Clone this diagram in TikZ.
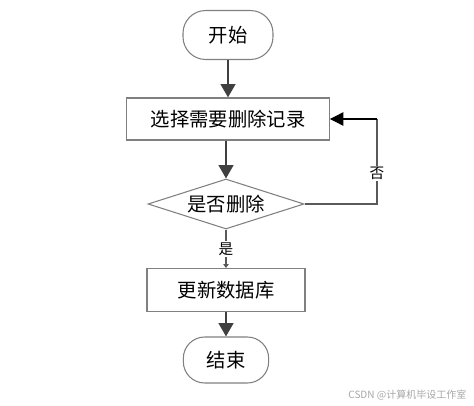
\documentclass[tikz,border=0pt]{standalone}
\usepackage{fontspec}
\setmainfont{Noto Sans CJK SC}
\usetikzlibrary{arrows.meta, shapes.geometric, positioning}

\tikzset{
    term/.style={draw=gray, line width=0.8pt, rounded corners=17pt, font=\fontsize{14.5}{16}\selectfont},
    proc/.style={draw=gray, line width=0.9pt, font=\fontsize{14.5}{16}\selectfont},
    deci/.style={draw=gray, line width=0.8pt, diamond, aspect=3.1, inner sep=0pt, minimum width=117pt, minimum height=37.5pt, font=\fontsize{14.5}{16}\selectfont},
    flow/.style={draw=black!75, line width=1.7pt, -{Triangle[length=10pt,width=11pt]}},
    thin/.style={draw=black!65, line width=0.8pt},
    lab/.style={fill=white, inner sep=1pt, font=\fontsize{11}{12}\selectfont}
}

\begin{document}
\begin{tikzpicture}[x=0.75pt, y=-0.75pt]
    \useasboundingbox (0,0) rectangle (474,406);
    \node[term, minimum width=67.5pt, minimum height=36.75pt] (st) at (228,35) {开始};
    \node[proc, minimum width=152pt, minimum height=31.5pt] (sel) at (228,119) {选择需要删除记录};
    \node[deci] (dec) at (226,204) {是否删除};
    \node[proc, minimum width=118.5pt, minimum height=32pt] (upd) at (226,290) {更新数据库};
    \node[term, minimum width=64pt, minimum height=34.5pt, rounded corners=16pt] (en) at (226,360) {结束};
    \coordinate (fb) at (377,119);
    \draw[flow] (st) -- (sel);
    \draw[flow] (sel.south -| dec.north) -- (dec);
    \draw[flow] (upd) -- (en);
    \draw[thin, -{Triangle[length=3pt,width=4pt]}] (dec) -- node[lab] {是} (upd);
    \draw[thin] (dec.east) -| node[lab, pos=0.68] {否} (fb);
    \draw[thin, -{Triangle[length=10pt,width=10pt]}, black] (fb) -- (sel.east);
    \node[text=black!35, font=\fontsize{7.5}{8}\selectfont, anchor=east] (wm) at (471,395) {CSDN @计算机毕设工作室};
\end{tikzpicture}
\end{document}
